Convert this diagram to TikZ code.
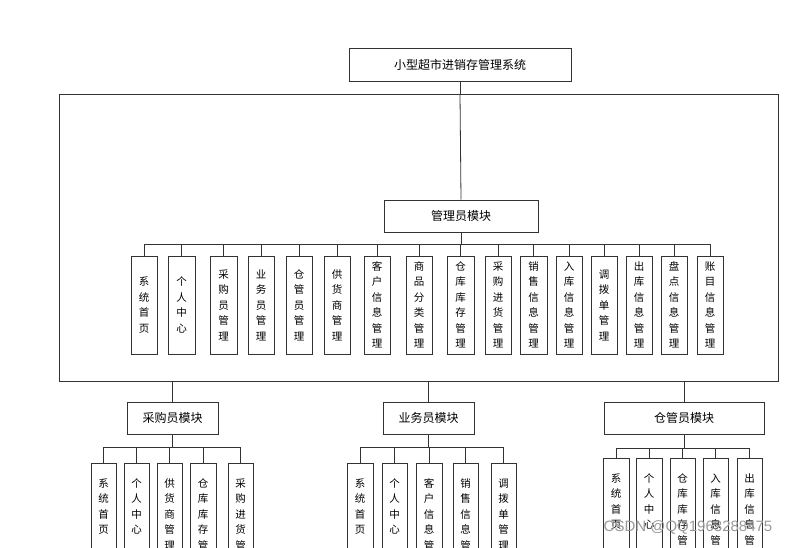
\documentclass[tikz,border=0pt]{standalone}
\usepackage{fontspec}
\setmainfont{Noto Sans CJK SC}
\setsansfont{Liberation Sans}
\begin{document}
\begin{tikzpicture}[x=1pt,y=-1pt,
  box/.style={draw=black!80,line width=0.9pt,fill=white,inner sep=0pt},
  vt/.style={font=\fontsize{10.5}{15.5}\selectfont,align=center},
  hd/.style={font=\fontsize{12}{14}\selectfont},
  ln/.style={draw=black!80,line width=0.8pt}]
\useasboundingbox (0,0) rectangle (811,548);
\clip (0,0) rectangle (811,548);
% title
\node[box,hd,minimum width=222pt,minimum height=33pt] (title) at (460,64.5) {小型超市进销存管理系统};
\draw[box] (59,94) rectangle (778,381);
\coordinate (bigtop) at (460,94);
\draw[ln] (title.south) -- (bigtop);
\node[box,hd,minimum width=154pt,minimum height=32pt] (admin) at (461,216) {管理员模块};
\draw[ln] (bigtop) -- (admin.north);
\coordinate (abus) at (461,244);
\draw[ln] (admin.south) -- (abus);
\draw[ln] (144,244) -- (710,244);
\foreach \i/\a/\b/\t in {1/131/157/{系\\统\\首\\页},2/168/195/{个\\人\\中\\心},3/210/237/{采\\购\\员\\管\\理},4/248/274/{业\\务\\员\\管\\理},5/286/312/{仓\\管\\员\\管\\理},6/324/350/{供\\货\\商\\管\\理},7/364/390/{客\\户\\信\\息\\管\\理},8/406/432/{商\\品\\分\\类\\管\\理},9/447/474/{仓\\库\\库\\存\\管\\理},10/485/511/{采\\购\\进\\货\\管\\理},11/520/547/{销\\售\\信\\息\\管\\理},12/556/582/{入\\库\\信\\息\\管\\理},13/591/617/{调\\拨\\单\\管\\理},14/626/652/{出\\库\\信\\息\\管\\理},15/661/687/{盘\\点\\信\\息\\管\\理},16/697/723/{账\\目\\信\\息\\管\\理}}{
  \node[box,minimum width={\b-\a},minimum height=98pt] (m\i) at ({(\a+\b)/2},305) {};
  \node[vt] at (m\i) {\t};
  \coordinate (mt\i) at ({(\a+\b)/2},244);
  \draw[ln] (mt\i) -- (m\i.north);
}
% lower modules
\node[box,hd,minimum width=91pt,minimum height=32pt] (cg) at (172.5,418) {采购员模块};
\node[box,hd,minimum width=91pt,minimum height=32pt] (yw) at (428.5,418) {业务员模块};
\node[box,hd,minimum width=160pt,minimum height=32pt] (cgy) at (684,418) {仓管员模块};
\coordinate (b1) at (172.5,381); \coordinate (b2) at (428.5,381); \coordinate (b3) at (684,381);
\draw[ln] (b1) -- (cg.north); \draw[ln] (b2) -- (yw.north); \draw[ln] (b3) -- (cgy.north);
\coordinate (l1) at (172.5,447); \coordinate (l2) at (428.5,447); \coordinate (l3) at (684,448);
\draw[ln] (cg.south) -- (l1); \draw[ln] (yw.south) -- (l2); \draw[ln] (cgy.south) -- (l3);
\draw[ln] (104,447) -- (240,447);
\draw[ln] (360,447) -- (503,447);
\draw[ln] (616,448) -- (750,448);
\foreach \n/\a/\b/\y/\by/\t in {p1/91/116/463/447/{系\\统\\首\\页},p2/124/149/463/447/{个\\人\\中\\心},p3/157/182/463/447/{供\\货\\商\\管\\理},p4/190/216/463/447/{仓\\库\\库\\存\\管\\理},p5/228/253/463/447/{采\\购\\进\\货\\管\\理},
  y1/347/373/463/447/{系\\统\\首\\页},y2/382/407/463/447/{个\\人\\中\\心},y3/416/442/463/447/{客\\户\\信\\息\\管\\理},y4/453/478/463/447/{销\\售\\信\\息\\管\\理},y5/491/516/463/447/{调\\拨\\单\\管\\理},
  c1/603/629/458/448/{系\\统\\首\\页},c2/636/662/458/448/{个\\人\\中\\心},c3/670/695/458/448/{仓\\库\\库\\存\\管\\理},c4/703/728/458/448/{入\\库\\信\\息\\管\\理},c5/737/762/458/448/{出\\库\\信\\息\\管\\理}}{
  \node[box,minimum width={\b-\a},minimum height=120pt,anchor=north] (\n) at ({(\a+\b)/2},\y) {};
  \node[vt,anchor=north] at ({(\a+\b)/2},{\y+12}) {\t};
  \coordinate (\n t) at ({(\a+\b)/2},\by);
  \draw[ln] (\n t) -- (\n.north);
}
\node[text=black!40,font=\fontsize{15}{16}\selectfont\sffamily] (wm) at (688,527) {CSDN @QQ1963288475};
\end{tikzpicture}
\end{document}
